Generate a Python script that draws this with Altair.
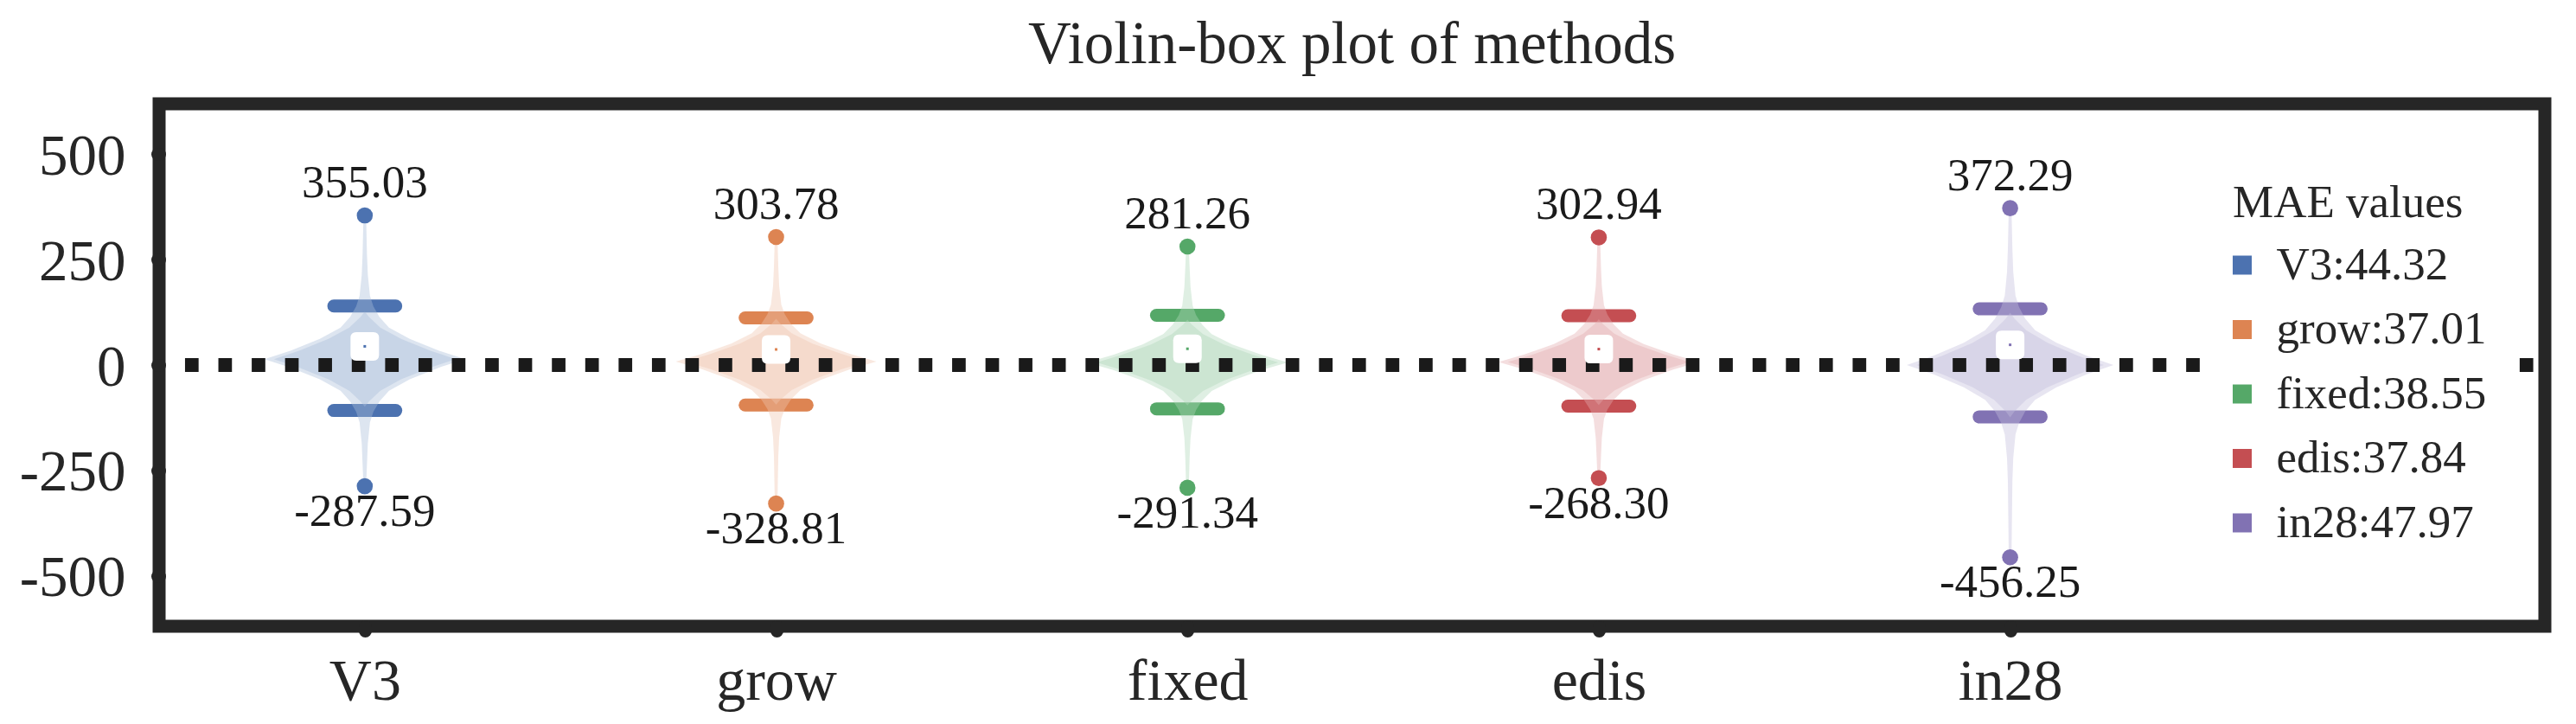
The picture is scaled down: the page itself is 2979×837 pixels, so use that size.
import json
import pandas as pd
import altair as alt

# ---------------- data ----------------
methods = ["V3", "grow", "fixed", "edis", "in28"]
mae = [44.32, 37.01, 38.55, 37.84, 47.97]
max_vals = [355.03, 303.78, 281.26, 302.94, 372.29]
min_vals = [-287.59, -328.81, -291.34, -268.30, -456.25]
cap_hi = [140.0, 112.0, 118.0, 117.0, 133.5]
cap_lo = [-108.0, -95.0, -104.0, -97.6, -123.0]
colors = ["#4c72b0", "#dd8452", "#55a868", "#c44e52", "#8172b3"]
light_colors = ["#abbdda", "#efc5ae", "#afd6b8", "#e3acae", "#c4bddb"]
legend_labels = ["V3:44.32", "grow:37.01", "fixed:38.55", "edis:37.84", "in28:47.97"]
y_ticks = [-500, -250, 0, 250, 500]

# violin outlines (value, half-width in category units)
outer_v = {
    "V3":    [-287.59, -236, -186, -136, -111, -86, -61, -34, -6, 14, 34, 62, 89, 114, 139, 164, 214, 264, 355.03],
    "grow":  [-328.81, -217, -172, -127, -104.5, -82, -59.5, -35, -10, 8, 26, 51, 75.5, 98, 120.5, 143, 188, 233, 303.78],
    "fixed": [-291.34, -219, -174, -129, -106.5, -84, -61.5, -37, -12, 6, 24, 49, 73.5, 96, 118.5, 141, 186, 231, 281.26],
    "edis":  [-268.30, -218, -173, -128, -105.5, -83, -60.5, -36, -11, 7, 25, 50, 74.5, 97, 119.5, 142, 187, 232, 302.94],
    "in28":  [-456.25, -275, -220, -165, -137.5, -110, -82.5, -53, -22, 0, 22, 53, 82.5, 110, 137.5, 165, 220, 275, 372.29],
}
outer_w = {
    "V3":    [0.0032, 0.0053, 0.0074, 0.0126, 0.021, 0.0357, 0.0589, 0.1093, 0.1808, 0.2439, 0.1808, 0.1093, 0.0589, 0.0357, 0.021, 0.0126, 0.0074, 0.0053, 0.0032],
    "grow":  [0.0032, 0.0053, 0.0074, 0.0126, 0.021, 0.0357, 0.0589, 0.1093, 0.1808, 0.2439, 0.1808, 0.1093, 0.0589, 0.0357, 0.021, 0.0126, 0.0074, 0.0053, 0.0032],
    "fixed": [0.0032, 0.0053, 0.0074, 0.0126, 0.021, 0.0357, 0.0589, 0.1093, 0.1808, 0.2439, 0.1808, 0.1093, 0.0589, 0.0357, 0.021, 0.0126, 0.0074, 0.0053, 0.0032],
    "edis":  [0.0032, 0.0053, 0.0074, 0.0126, 0.021, 0.0357, 0.0589, 0.1093, 0.1808, 0.2439, 0.1808, 0.1093, 0.0589, 0.0357, 0.021, 0.0126, 0.0074, 0.0053, 0.0032],
    "in28":  [0.0033, 0.0055, 0.0076, 0.013, 0.0216, 0.0368, 0.0607, 0.1126, 0.1862, 0.2512, 0.1862, 0.1126, 0.0607, 0.0368, 0.0216, 0.013, 0.0076, 0.0055, 0.0033],
}
inner_v = {
    "V3":    [-99, -86, -61, -34, -6, 14, 34, 62, 89, 114, 127],
    "grow":  [-94, -82, -59.5, -35, -10, 8, 26, 51, 75.5, 98, 110],
    "fixed": [-96, -84, -61.5, -37, -12, 6, 24, 49, 73.5, 96, 108],
    "edis":  [-95, -83, -60.5, -36, -11, 7, 25, 50, 74.5, 97, 109],
    "in28":  [-124, -110, -82.5, -53, -22, 0, 22, 53, 82.5, 110, 124],
}
inner_w = {
    "V3":    [0, 0.0105, 0.0378, 0.0883, 0.1598, 0.2208, 0.1598, 0.0883, 0.0378, 0.0105, 0],
    "grow":  [0, 0.0105, 0.0378, 0.0883, 0.1598, 0.2208, 0.1598, 0.0883, 0.0378, 0.0105, 0],
    "fixed": [0, 0.0105, 0.0378, 0.0883, 0.1598, 0.2208, 0.1598, 0.0883, 0.0378, 0.0105, 0],
    "edis":  [0, 0.0105, 0.0378, 0.0883, 0.1598, 0.2208, 0.1598, 0.0883, 0.0378, 0.0105, 0],
    "in28":  [0, 0.0108, 0.0389, 0.0909, 0.1646, 0.2274, 0.1646, 0.0909, 0.0389, 0.0108, 0],
}
zero_line = {"x": [-0.437], "x2": [5.2735], "y": [0]}
cap_half = 0.0753

# ---------------- tables ----------------
vrows = []
for i, m in enumerate(methods):
    for layer, vs, ws in (("outer", outer_v[m], outer_w[m]), ("inner", inner_v[m], inner_w[m])):
        for v, w in zip(vs, ws):
            vrows.append({"method": m, "layer": layer, "v": v,
                          "left": i - w, "right": i + w, "fillc": light_colors[i]})
violin_df = pd.DataFrame(vrows)

cap_rows = []
for i, m in enumerate(methods):
    for c in (cap_hi[i], cap_lo[i]):
        cap_rows.append({"method": m, "x": i - cap_half, "x2": i + cap_half, "y": c, "col": colors[i]})
cap_df = pd.DataFrame(cap_rows)

center_df = pd.DataFrame({"idx": list(range(len(methods))), "mae": mae,
                          "leg": legend_labels, "col": colors})
ext_df = pd.DataFrame({
    "idx": list(range(len(methods))) * 2,
    "val": max_vals + min_vals,
    "col": colors * 2,
    "kind": ["max"] * 5 + ["min"] * 5,
    "txt": [f"{v:.2f}" for v in max_vals + min_vals],
})
zero_df = pd.DataFrame(zero_line)

# ---------------- encodings ----------------
FONT = "Liberation Serif"
xs = alt.Scale(domain=[-0.5, 5.3], nice=False, zero=False)
ys = alt.Scale(domain=[-620, 620], nice=False, zero=False)
x_axis = alt.Axis(values=[0, 1, 2, 3, 4], labelExpr=json.dumps(methods) + "[datum.value]",
                  labelFont=FONT, labelFontSize=68, labelColor="#262626",
                  tickSize=5, tickWidth=15, tickColor="#262626", tickCap="round",
                  labelPadding=25, domain=False, grid=False, labelFlush=False,
                  labelOverlap=False, title=None)
y_axis = alt.Axis(values=y_ticks, labelExpr="'' + datum.value",
                  labelFont=FONT, labelFontSize=67, labelColor="#262626",
                  tickSize=2, tickWidth=15, tickColor="#262626", tickCap="round",
                  labelPadding=37, labelOffset=3, domain=False, grid=False,
                  labelFlush=False, labelOverlap=False, title=None)


def X(field):
    return alt.X(field, type="quantitative", scale=xs, axis=x_axis, title=None)


def Y(field):
    return alt.Y(field, type="quantitative", scale=ys, axis=y_axis, title=None)


caps = alt.Chart(cap_df).mark_rule(strokeWidth=15, strokeCap="round", opacity=1).encode(
    x=X("x"), x2="x2", y=Y("y"), color=alt.Color("col:N", scale=None))

violins = alt.Chart(violin_df).mark_area(orient="horizontal", opacity=0.4, interpolate="linear").encode(
    y=Y("v"), x=X("left"), x2="right",
    color=alt.Color("fillc:N", scale=None),
    detail=["method:N", "layer:N"])

zero = alt.Chart(zero_df).mark_rule(strokeDash=[15.7, 22.87], strokeWidth=16,
                                    color="#1a1a1a", strokeCap="butt").encode(
    x=X("x"), x2="x2", y=Y("y"))

rounded_square = ("M-0.6,-1L0.6,-1Q1,-1,1,-0.6L1,0.6Q1,1,0.6,1L-0.6,1"
                  "Q-1,1,-1,0.6L-1,-0.6Q-1,-1,-0.6,-1Z")
white_box = alt.Chart(center_df).mark_point(shape=rounded_square, size=1089, filled=True,
                                            color="white", opacity=1, strokeWidth=0).encode(
    x=X("idx"), y=Y("mae"))

center_dot = alt.Chart(center_df).mark_square(size=9, opacity=1).encode(
    x=X("idx"), y=Y("mae"),
    color=alt.Color("leg:N", scale=alt.Scale(domain=legend_labels, range=colors),
                    legend=alt.Legend(title="MAE values", orient="none", legendX=2367, legendY=58,
                                      fillColor="white", padding=31,
                                      titleFont=FONT, titleFontSize=53, titleFontWeight="normal",
                                      titleColor="#262626", titlePadding=18, titleLimit=1000,
                                      labelFont=FONT, labelFontSize=53, labelColor="#262626",
                                      labelOffset=13, labelLimit=1000, symbolOffset=-15.5,
                                      symbolType="square", symbolSize=484, symbolStrokeWidth=0,
                                      symbolOpacity=1, rowPadding=20.5)))

ext_pts = alt.Chart(ext_df).mark_circle(size=346, opacity=1).encode(
    x=X("idx"), y=Y("val"), color=alt.Color("col:N", scale=None))

top_txt = alt.Chart(ext_df).transform_filter(alt.datum.kind == "max").mark_text(
    font=FONT, fontSize=53, color="#1a1a1a", baseline="alphabetic", align="center", dy=-21).encode(
    x=X("idx"), y=Y("val"), text="txt:N")

bot_txt = alt.Chart(ext_df).transform_filter(alt.datum.kind == "min").mark_text(
    font=FONT, fontSize=53, color="#1a1a1a", baseline="alphabetic", align="center", dy=46).encode(
    x=X("idx"), y=Y("val"), text="txt:N")

chart = alt.layer(caps, violins, zero, white_box, center_dot, ext_pts, top_txt, bot_txt).properties(
    width=2759, height=604,
    padding={"left": 176, "top": 112, "right": 20, "bottom": 105},
    autosize=alt.AutoSizeParams(type="none"),
    background="white",
    title=alt.TitleParams("Violin-box plot of methods", font=FONT, fontSize=69, fontWeight="normal",
                          color="#262626", offset=33, anchor="middle"),
).configure_view(stroke="#262626", strokeWidth=15)

chart.save("out.html", embed_options={"renderer": "svg", "actions": False})
